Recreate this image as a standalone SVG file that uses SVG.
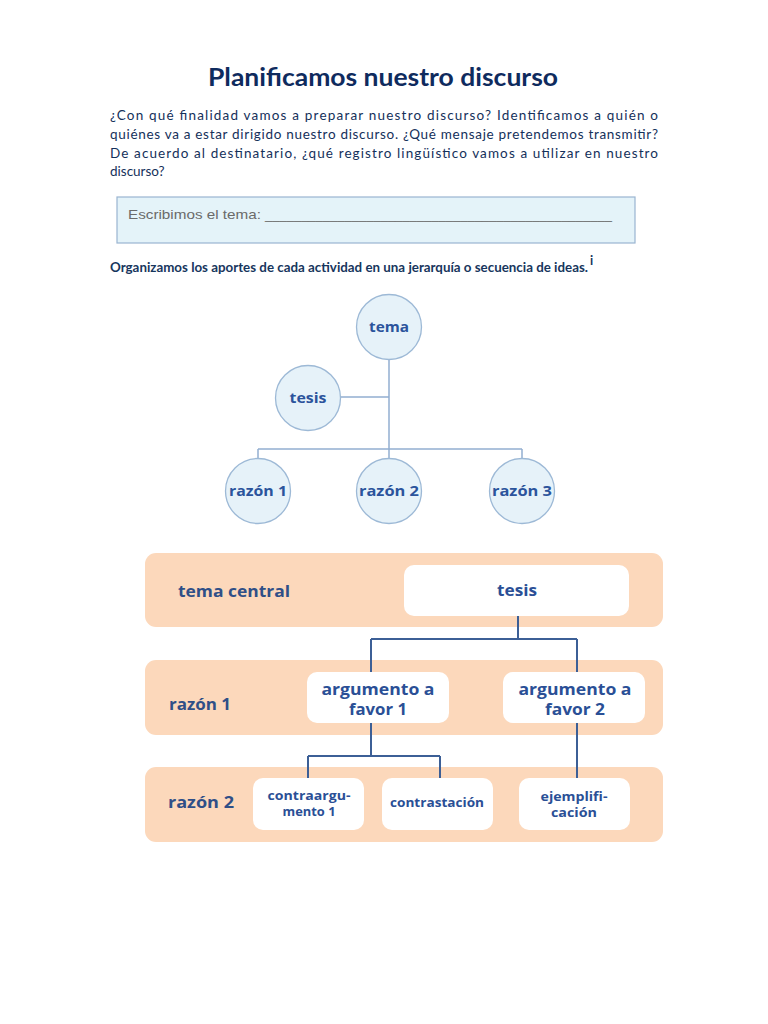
<svg xmlns="http://www.w3.org/2000/svg" width="768" height="1024" viewBox="0 0 768 1024">
<style>
.title{font-family:Lato,"Open Sans",sans-serif;font-weight:bold;font-size:24px;fill:#0f2b5e}
.para{font-family:Lato,"Open Sans",sans-serif;font-size:13.5px;fill:#14305a}
.org{font-family:Lato,"Open Sans",sans-serif;font-weight:bold;font-size:12.5px;fill:#17365d}
.esc{font-family:"Liberation Sans",Arial,sans-serif;font-size:13px;fill:#6a6a6a}
.circ{fill:#e6f2f9;stroke:#9db9d6;stroke-width:1.3}
.ct{font-family:"Open Sans",sans-serif;font-weight:bold;font-size:15px;fill:#2b549c;text-anchor:middle}
.band{fill:#fcd8bb}
.wbox{fill:#ffffff}
.bl{font-family:"Open Sans",sans-serif;font-weight:bold;font-size:16px;fill:#2f4f87}
.bt{font-family:"Open Sans",sans-serif;font-weight:bold;font-size:16px;fill:#2a4f96;text-anchor:middle}
.bs{font-family:"Open Sans",sans-serif;font-weight:bold;font-size:12.5px;fill:#2a4f96;text-anchor:middle}
.lc{fill:none;stroke:#93afd1;stroke-width:1.5}
.dc{fill:none;stroke:#3c5f96;stroke-width:2}
</style>
<rect width="768" height="1024" fill="#ffffff"/>
<text class="title" x="383" y="86" text-anchor="middle" textLength="350" lengthAdjust="spacingAndGlyphs">Planificamos nuestro discurso</text>
<text class="para" x="110" y="120" textLength="548" lengthAdjust="spacing">¿Con qué finalidad vamos a preparar nuestro discurso? Identificamos a quién o</text>
<text class="para" x="110" y="139" textLength="548" lengthAdjust="spacing">quiénes va a estar dirigido nuestro discurso. ¿Qué mensaje pretendemos transmitir?</text>
<text class="para" x="110" y="158" textLength="548" lengthAdjust="spacing">De acuerdo al destinatario, ¿qué registro lingüístico vamos a utilizar en nuestro</text>
<text class="para" x="110" y="176">discurso?</text>
<rect x="117" y="197" width="518" height="46" fill="#e4f3f9" stroke="#9ab5d1" stroke-width="1.2"/>
<text class="esc" x="128" y="219" textLength="133" lengthAdjust="spacingAndGlyphs">Escribimos el tema:</text>
<text class="esc" x="265" y="219" textLength="347" lengthAdjust="spacingAndGlyphs">________________________________________________</text>
<text class="org" x="110" y="272" textLength="478" lengthAdjust="spacingAndGlyphs">Organizamos los aportes de cada actividad en una jerarquía o secuencia de ideas.</text>
<text class="org" x="590" y="265" font-size="6">i</text>
<g id="connectors-top">
<path class="lc" d="M389 359 V449 M341 397 H389 M258 449 H522 M258 449 V459 M389 449 V459 M522 449 V459"/>
</g>
<g id="c-tema"><circle class="circ" cx="389" cy="327" r="32.5"/><text class="ct" x="389" y="332" textLength="40" lengthAdjust="spacingAndGlyphs">tema</text></g>
<g id="c-tesis"><circle class="circ" cx="308" cy="398" r="32.5"/><text class="ct" x="308" y="403" textLength="37" lengthAdjust="spacingAndGlyphs">tesis</text></g>
<g id="c-razon1"><circle class="circ" cx="258" cy="491" r="32.5"/><text class="ct" x="258" y="496" textLength="58" lengthAdjust="spacingAndGlyphs">razón 1</text></g>
<g id="c-razon2"><circle class="circ" cx="389" cy="491" r="32.5"/><text class="ct" x="389" y="496" textLength="60" lengthAdjust="spacingAndGlyphs">razón 2</text></g>
<g id="c-razon3"><circle class="circ" cx="522" cy="491" r="32.5"/><text class="ct" x="522" y="496" textLength="60" lengthAdjust="spacingAndGlyphs">razón 3</text></g>
<g id="band-tema-central"><rect class="band" x="145" y="553" width="518" height="74" rx="11"/><text class="bl" x="178" y="597" textLength="112" lengthAdjust="spacingAndGlyphs">tema central</text></g>
<g id="band-razon1"><rect class="band" x="145" y="660" width="518" height="75" rx="11"/><text class="bl" x="169" y="710" textLength="62" lengthAdjust="spacingAndGlyphs">razón 1</text></g>
<g id="band-razon2"><rect class="band" x="145" y="767" width="518" height="75" rx="11"/><text class="bl" x="168" y="808" textLength="66" lengthAdjust="spacingAndGlyphs">razón 2</text></g>
<g id="connectors-bottom">
<path class="dc" d="M518 616 V639 M371 639 H577 M371 639 V672 M577 639 V672 M371 723 V756 M308 756 H440 M308 756 V778 M440 756 V778 M577 723 V778"/>
</g>
<g id="b-tesis"><rect class="wbox" x="404" y="565" width="225" height="51" rx="10"/><text class="bt" x="517" y="596" textLength="40" lengthAdjust="spacingAndGlyphs">tesis</text></g>
<g id="b-arg1"><rect class="wbox" x="307" y="672" width="142" height="51" rx="10"/><text class="bt" x="378" y="695" textLength="113" lengthAdjust="spacingAndGlyphs">argumento a</text><text class="bt" x="378" y="715" textLength="58" lengthAdjust="spacingAndGlyphs">favor 1</text></g>
<g id="b-arg2"><rect class="wbox" x="503" y="672" width="142" height="51" rx="10"/><text class="bt" x="575" y="695" textLength="113" lengthAdjust="spacingAndGlyphs">argumento a</text><text class="bt" x="575" y="715" textLength="60" lengthAdjust="spacingAndGlyphs">favor 2</text></g>
<g id="b-contraarg"><rect class="wbox" x="253" y="778" width="111" height="52" rx="10"/><text class="bs" x="309" y="800" textLength="83" lengthAdjust="spacingAndGlyphs">contraargu-</text><text class="bs" x="309" y="816" textLength="53" lengthAdjust="spacingAndGlyphs">mento 1</text></g>
<g id="b-contrast"><rect class="wbox" x="382" y="778" width="111" height="52" rx="10"/><text class="bs" x="437" y="807" textLength="94" lengthAdjust="spacingAndGlyphs">contrastación</text></g>
<g id="b-ejempl"><rect class="wbox" x="519" y="778" width="111" height="52" rx="10"/><text class="bs" x="574" y="801" textLength="67" lengthAdjust="spacingAndGlyphs">ejemplifi-</text><text class="bs" x="574" y="817" textLength="46" lengthAdjust="spacingAndGlyphs">cación</text></g>
</svg>
